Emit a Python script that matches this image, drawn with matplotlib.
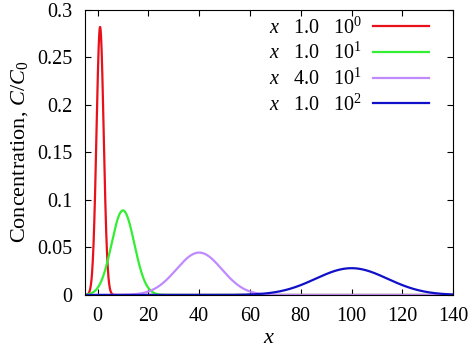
import numpy as np
import matplotlib
matplotlib.use("Agg")
import matplotlib.pyplot as plt

plt.rcParams.update({
    "font.family": "Liberation Serif",
    "mathtext.fontset": "custom",
    "mathtext.rm": "Liberation Serif",
    "mathtext.it": "Liberation Serif:italic",
    "font.size": 14.5,
})

# picos gaussianos
centros = [1.0, 10.0, 40.0, 100.0]
alturas = [0.282, 0.089, 0.0446, 0.0282]
etiquetas = [r"$x$   1.0   $10^{0}$", r"$x$   1.0   $10^{1}$",
             r"$x$   4.0   $10^{1}$", r"$x$   1.0   $10^{2}$"]
colores = ["#e8101a", "#33ee33", "#c08aff", "#1010c8"]

xs = np.linspace(-5, 140, 2000)

fig = plt.figure(figsize=(4.74, 3.52), dpi=100)
ax = fig.add_axes([0.179, 0.162, 0.777, 0.81])
for c, h, lab, col in zip(centros, alturas, etiquetas, colores):
    s = 1 / (h * np.sqrt(2 * np.pi))  # area unitaria
    ax.plot(xs, h * np.exp(-(xs - c) ** 2 / (2 * s ** 2)), color=col, lw=1.6, label=lab)

ax.set_xlim(-5, 140); ax.set_ylim(0, 0.3)
ax.set_xticks(range(0, 141, 20))
ax.set_yticks([0, 0.05, 0.1, 0.15, 0.2, 0.25, 0.3])
ax.set_yticklabels(["0", "0.05", "0.1", "0.15", "0.2", "0.25", "0.3"])
ax.tick_params(axis="y", direction="in", right=True, length=4, pad=9)
ax.tick_params(axis="x", direction="in", top=True, length=4, pad=9)
ax.set_xlabel("$x$", fontsize=16, labelpad=2)
ax.set_ylabel("Concentration, $C/C_0$", fontsize=16, labelpad=5)
ax.legend(loc="upper right", bbox_to_anchor=(0.97, 1.02), frameon=False, markerfirst=False,
          handlelength=2.8, handletextpad=0.5, labelspacing=0.22, borderaxespad=0.25)
fig.savefig("out.png")
